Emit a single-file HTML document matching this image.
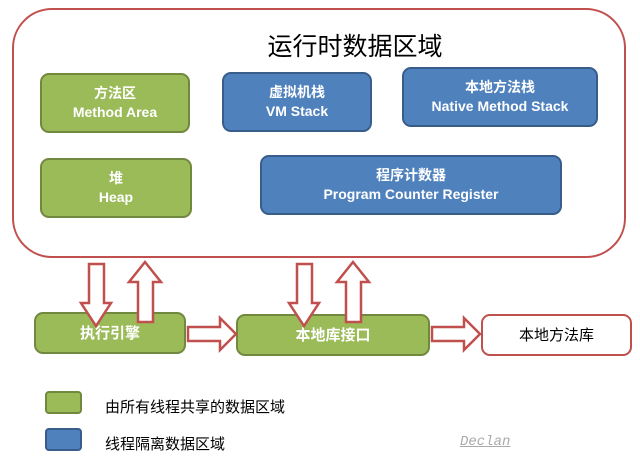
<!DOCTYPE html>
<html><head><meta charset="utf-8"><style>
body{margin:0;width:640px;height:466px;background:#fff;position:relative;overflow:hidden;font-family:"Liberation Sans","Noto Sans CJK SC",sans-serif}
.b{position:absolute;box-sizing:border-box;border-radius:9px;color:#fff;text-align:center;font-weight:bold;display:flex;flex-direction:column;justify-content:center;font-size:14px;line-height:19px}
.g{background:#9bbb59;border:2px solid #71893f}
.u{background:#4f81bd;border:2px solid #385d8a}
.t{position:absolute;font-size:15px;color:#000}
</style></head><body>
<div style="position:absolute;left:12px;top:8px;width:614px;height:250px;border:2px solid #c0504d;border-radius:40px;box-sizing:border-box"></div>
<div class="t" style="left:0;width:710px;text-align:center;top:27px;font-size:25px">运行时数据区域</div>
<div class="b g" style="left:40px;top:73px;width:150px;height:60px">方法区<br>Method Area</div>
<div class="b u" style="left:222px;top:72px;width:150px;height:60px">虚拟机栈<br>VM Stack</div>
<div class="b u" style="left:402px;top:67px;width:196px;height:60px">本地方法栈<br>Native Method Stack</div>
<div class="b g" style="left:40px;top:158px;width:152px;height:60px">堆<br>Heap</div>
<div class="b u" style="left:260px;top:155px;width:302px;height:60px">程序计数器<br>Program Counter Register</div>
<div class="b g" style="left:34px;top:312px;width:152px;height:42px;font-size:15px">执行引擎</div>
<div class="b g" style="left:236px;top:314px;width:194px;height:42px;font-size:15px">本地库接口</div>
<div class="b" style="left:481px;top:314px;width:151px;height:42px;border:2px solid #c0504d;color:#000;font-weight:normal;font-size:15px">本地方法库</div>
<svg style="position:absolute;left:0;top:0" width="640" height="466" fill="#fff" stroke="#c0504d" stroke-width="2.5">
<polygon points="89,264 104,264 104,303 111,303 96,326 81,303 89,303"/>
<polygon points="138,322 153,322 153,282 161,282 145,262 129,282 138,282"/>
<polygon points="297,264 312,264 312,303 319,303 304,326 289,303 297,303"/>
<polygon points="346,322 361,322 361,282 369,282 353,262 337,282 346,282"/>
<polygon points="188,327 220,327 220,318 236,334 220,350 220,341 188,341"/>
<polygon points="432,327 464,327 464,318 480,334 464,350 464,341 432,341"/>
</svg>
<div class="b g" style="left:45px;top:391px;width:37px;height:23px;border-radius:4px"></div>
<div class="b u" style="left:45px;top:428px;width:37px;height:23px;border-radius:4px"></div>
<div class="t" style="left:105px;top:396px">由所有线程共享的数据区域</div>
<div class="t" style="left:105px;top:433px">线程隔离数据区域</div>
<div class="t" style="left:460px;top:434px;color:#aaa;font-family:'Liberation Mono',monospace;font-style:italic;text-decoration:underline;font-size:14px">Declan</div>
</body></html>
